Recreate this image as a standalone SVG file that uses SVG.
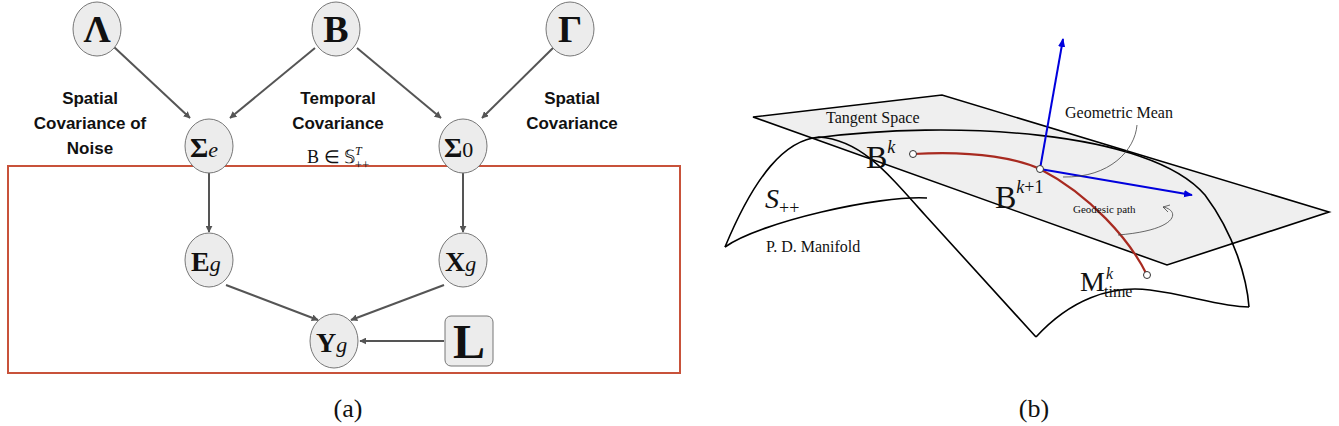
<svg xmlns="http://www.w3.org/2000/svg" width="1339" height="426" viewBox="0 0 1339 426">
<defs>
<marker id="ga" viewBox="0 0 10 10" refX="9" refY="5" markerWidth="7" markerHeight="7" orient="auto" markerUnits="userSpaceOnUse"><path d="M0,0 L10,5 L0,10 z" fill="#555"/></marker>
<marker id="ba" viewBox="0 0 10 10" refX="9" refY="5" markerWidth="9" markerHeight="9" orient="auto" markerUnits="userSpaceOnUse"><path d="M0,1 L10,5 L0,9 z" fill="#0000dd"/></marker>
</defs>
<style>
.n ellipse,.n rect{fill:#ececec;stroke:#777;stroke-width:1}
.m{font-family:"Liberation Serif",serif;fill:#111}
.lab{font-family:"Liberation Sans",sans-serif;font-weight:bold;font-size:17px;fill:#111;text-anchor:middle}
.e{stroke:#555;stroke-width:2;fill:none;marker-end:url(#ga)}
.k{fill:none;stroke:#000;stroke-width:1.6}
</style>
<rect width="1339" height="426" fill="#fff"/>
<rect x="8" y="166" width="672" height="207" fill="none" stroke="#c8523a" stroke-width="2"/>
<g id="edges-a">
<line class="e" x1="114" y1="47" x2="190" y2="118"/>
<line class="e" x1="315" y1="48" x2="230" y2="118"/>
<line class="e" x1="357" y1="48" x2="441" y2="118"/>
<line class="e" x1="553" y1="48" x2="482" y2="118"/>
<line class="e" x1="209" y1="172" x2="209" y2="232"/>
<line class="e" x1="463" y1="172" x2="463" y2="232"/>
<line class="e" x1="226" y1="285" x2="318" y2="320"/>
<line class="e" x1="444" y1="285" x2="351" y2="320"/>
<line class="e" x1="444" y1="341" x2="360" y2="341"/>
</g>
<g id="n-lambda" class="n"><ellipse cx="97" cy="29" rx="24" ry="27"/><text class="m" x="97" y="42" font-size="38" font-weight="bold" text-anchor="middle">Λ</text></g>
<g id="n-B" class="n"><ellipse cx="336" cy="29" rx="24" ry="27"/><text class="m" x="336" y="42" font-size="38" font-weight="bold" text-anchor="middle">B</text></g>
<g id="n-gamma" class="n"><ellipse cx="570" cy="29" rx="24" ry="27"/><text class="m" x="570" y="42" font-size="38" font-weight="bold" text-anchor="middle">Γ</text></g>
<g id="n-sige" class="n"><ellipse cx="209" cy="146" rx="24" ry="27"/><text class="m" x="190" y="157" font-size="28" font-weight="bold">Σ<tspan font-style="italic" font-weight="normal" font-size="22">e</tspan></text></g>
<g id="n-sig0" class="n"><ellipse cx="463" cy="146" rx="24" ry="27"/><text class="m" x="444" y="157" font-size="28" font-weight="bold">Σ<tspan font-weight="normal" font-size="22">0</tspan></text></g>
<g id="n-Eg" class="n"><ellipse cx="209" cy="260" rx="24" ry="27"/><text class="m" x="191" y="271" font-size="28" font-weight="bold">E<tspan font-style="italic" font-weight="normal" font-size="22">g</tspan></text></g>
<g id="n-Xg" class="n"><ellipse cx="463" cy="260" rx="24" ry="27"/><text class="m" x="445" y="271" font-size="28" font-weight="bold">X<tspan font-style="italic" font-weight="normal" font-size="22">g</tspan></text></g>
<g id="n-Yg" class="n"><ellipse cx="334" cy="341" rx="24" ry="27"/><text class="m" x="316" y="352" font-size="28" font-weight="bold">Y<tspan font-style="italic" font-weight="normal" font-size="22">g</tspan></text></g>
<g id="n-L" class="n"><rect x="445" y="316" width="48" height="50" rx="6"/><text class="m" x="469" y="358" font-size="48" font-weight="bold" text-anchor="middle">L</text></g>
<text class="lab" x="90" y="104">Spatial</text><text class="lab" x="90" y="129">Covariance of</text><text class="lab" x="90" y="154">Noise</text>
<text class="lab" x="338" y="104">Temporal</text><text class="lab" x="338" y="129">Covariance</text>
<text class="lab" x="572" y="104">Spatial</text><text class="lab" x="572" y="129">Covariance</text>
<text class="m" x="307" y="163" font-size="18">B ∈ 𝕊<tspan font-size="12" font-style="italic" dy="-8">T</tspan><tspan font-size="13" dx="-7" dy="14">++</tspan></text>
<text class="m" x="348" y="417" font-size="26" text-anchor="middle">(a)</text>

<g id="panel-b">
<path class="k" d="M725,247 C760,222 880,195 927,198"/>
<polygon points="753,117 942,95 1329,212 1167,265" fill="#efefef" stroke="#000" stroke-width="1.6"/>
<path class="k" d="M725,247 C755,175 785,140 819,137 C860,140 885,170 925,215 L1036,337"/>
<path class="k" d="M815,138 C950,120 1150,130 1205,195 C1235,235 1247,280 1249,307"/>
<path class="k" d="M1036,337 C1070,300 1110,285 1150,290 C1190,295 1220,307 1249,307"/>
<path d="M913,154 C980,150 1020,160 1040,169 C1090,195 1130,240 1147,275" fill="none" stroke="#a82a20" stroke-width="2.2"/>
<line x1="1040" y1="169" x2="1063" y2="39" stroke="#0000dd" stroke-width="2" marker-end="url(#ba)"/>
<line x1="1040" y1="169" x2="1192" y2="195" stroke="#0000dd" stroke-width="2" marker-end="url(#ba)"/>
<path d="M1137,125 C1135,150 1110,178 1063,177" fill="none" stroke="#444" stroke-width="0.8"/>
<path d="M1163,207 C1180,210 1180,230 1118,235" fill="none" stroke="#444" stroke-width="0.8"/>
<path d="M1168,212 L1163,207 L1170,205" fill="none" stroke="#444" stroke-width="0.8"/>
<circle cx="913" cy="154" r="3.5" fill="#fff" stroke="#333"/>
<circle cx="1040" cy="169" r="3.5" fill="#fff" stroke="#333"/>
<circle cx="1147" cy="275" r="3.5" fill="#fff" stroke="#333"/>
<text class="m" x="826" y="123" font-size="16">Tangent Space</text>
<text class="m" x="1065" y="118" font-size="16">Geometric Mean</text>
<text class="m" x="866" y="168" font-size="32">B<tspan font-size="18" font-style="italic" dy="-15">k</tspan></text>
<text class="m" x="995" y="208" font-size="32">B<tspan font-size="18" font-style="italic" dy="-15">k</tspan><tspan font-size="18" dy="0">+1</tspan></text>
<text class="m" x="765" y="208" font-size="28" font-style="italic">S<tspan font-size="18" font-style="normal" dy="6">++</tspan></text>
<text class="m" x="766" y="252" font-size="16">P. D. Manifold</text>
<text class="m" x="1073" y="213" font-size="11">Geodesic path</text>
<text class="m" x="1080" y="291" font-size="28">M<tspan font-size="16" font-style="italic" dx="1" dy="-12">k</tspan><tspan font-size="16" dx="-9" dy="18">time</tspan></text>
<text class="m" x="1034" y="417" font-size="26" text-anchor="middle">(b)</text>
</g>
</svg>
